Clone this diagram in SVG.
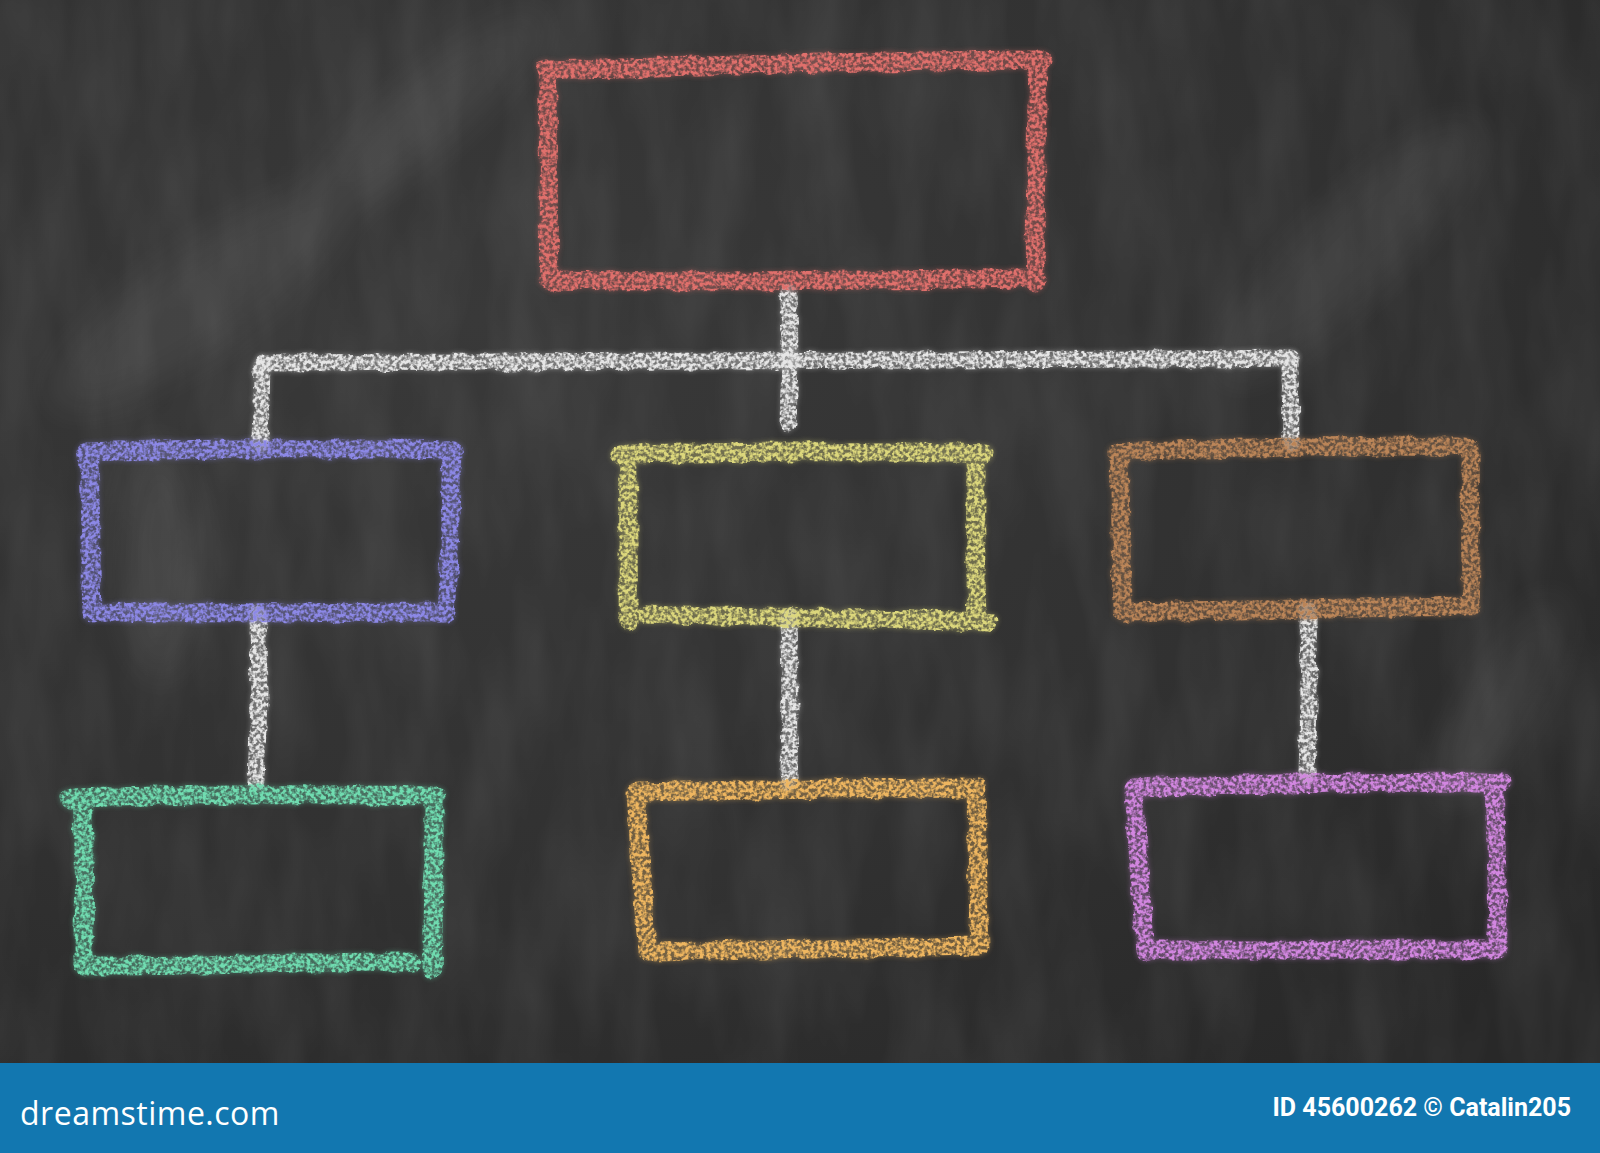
<svg xmlns="http://www.w3.org/2000/svg" width="1600" height="1153" viewBox="0 0 1600 1153">
  <defs>
    <radialGradient id="board" cx="0.3" cy="0.3" r="0.9">
      <stop offset="0" stop-color="#393939"/>
      <stop offset="0.6" stop-color="#313131"/>
      <stop offset="1" stop-color="#282828"/>
    </radialGradient>
    <filter id="boardtex" filterUnits="userSpaceOnUse" x="0" y="0" width="1600" height="1063">
      <feTurbulence type="fractalNoise" baseFrequency="0.02 0.006" numOctaves="3" seed="7" result="n"/>
      <feColorMatrix in="n" type="matrix" values="0 0 0 0 1  0 0 0 0 1  0 0 0 0 1  0.12 0 0 0 -0.04"/>
    </filter>
    <filter id="chalk" filterUnits="userSpaceOnUse" x="0" y="0" width="1600" height="1063">
      <feTurbulence type="fractalNoise" baseFrequency="0.06" numOctaves="2" seed="2" result="warp"/>
      <feDisplacementMap in="SourceGraphic" in2="warp" scale="7" xChannelSelector="R" yChannelSelector="G" result="rough"/>
      <feTurbulence type="fractalNoise" baseFrequency="0.28" numOctaves="2" seed="5" result="grainNoise"/>
      <feColorMatrix in="grainNoise" type="matrix" values="0 0 0 0 0  0 0 0 0 0  0 0 0 0 0  3.6 0 0 0 -1.25" result="mask"/>
      <feComposite in="rough" in2="mask" operator="in" result="grain"/>
      <feGaussianBlur in="rough" stdDeviation="2.5" result="halo"/>
      <feComponentTransfer in="halo" result="halo2">
        <feFuncA type="linear" slope="0.35"/>
      </feComponentTransfer>
      <feMerge>
        <feMergeNode in="halo2"/>
        <feMergeNode in="grain"/>
      </feMerge>
    </filter>
    <filter id="smudge" x="-20%" y="-20%" width="140%" height="140%">
      <feGaussianBlur stdDeviation="18"/>
    </filter>
  </defs>
  <style>
    .ch { fill: none; stroke-width: 19; stroke-linecap: round; stroke-linejoin: round; filter: url(#chalk); }
    .red { stroke: #e0706c; }
    .wht { stroke: #e6e6e6; stroke-width: 17; }
    .blu { stroke: #8c88e6; }
    .yel { stroke: #dcd77c; }
    .brn { stroke: #bb8558; }
    .grn { stroke: #6fdcb0; }
    .org { stroke: #eeb660; }
    .pur { stroke: #d286e0; }
    .bar { fill: #1277b0; }
    .t1 { font-family: "Open Sans", "Liberation Sans", sans-serif; fill: #ffffff; font-size: 32px; letter-spacing: 0.5px; }
    .t2 { font-family: Roboto, "Liberation Sans", sans-serif; fill: #ffffff; font-size: 25px; font-weight: bold; }
  </style>

  <!-- chalkboard -->
  <rect x="0" y="0" width="1600" height="1063" fill="url(#board)"/>
  <rect x="0" y="0" width="1600" height="1063" filter="url(#boardtex)"/>
  <g opacity="0.07" filter="url(#smudge)" fill="#ffffff">
    <ellipse cx="200" cy="300" rx="180" ry="50" transform="rotate(-35 200 300)"/>
    <ellipse cx="420" cy="120" rx="160" ry="35" transform="rotate(-40 420 120)"/>
    <ellipse cx="1350" cy="250" rx="180" ry="45" transform="rotate(-45 1350 250)"/>
    <ellipse cx="1500" cy="700" rx="120" ry="35" transform="rotate(-60 1500 700)"/>
    <ellipse cx="160" cy="560" rx="40" ry="120"/>
  </g>

  <!-- connectors -->
  <g id="connectors" class="connectors">
    <path class="ch wht" d="M789,292 L790,360 L788,424"/>
    <path class="ch wht" d="M262,363 C500,360 900,362 1290,358"/>
    <path class="ch wht" d="M262,364 L260,444"/>
    <path class="ch wht" d="M1290,360 L1291,442"/>
    <path class="ch wht" d="M258,614 L259,700 L256,784"/>
    <path class="ch wht" d="M789,618 L790,700 L789,782"/>
    <path class="ch wht" d="M1308,610 L1309,700 L1307,776"/>
  </g>

  <!-- nodes -->
  <g id="node-top">
    <path class="ch red" d="M546,70 C700,66 900,60 1042,60 M1038,62 C1036,140 1034,220 1036,282 M1036,278 C900,280 700,282 550,280 M549,280 C547,200 550,130 547,70"/>
  </g>
  <g id="node-left">
    <path class="ch blu" d="M86,452 C200,448 350,448 454,450 M452,452 C450,500 450,560 446,612 M446,612 C330,612 200,614 92,612 M92,614 C90,560 92,500 88,452"/>
  </g>
  <g id="node-center">
    <path class="ch yel" d="M620,454 C750,452 880,450 985,454 M976,456 C976,510 975,570 977,616 M988,622 C880,618 760,618 646,614 M628,456 C627,520 629,570 628,622"/>
  </g>
  <g id="node-right">
    <path class="ch brn" d="M1118,452 C1230,447 1350,446 1468,446 M1470,448 C1470,500 1472,560 1470,606 M1470,606 C1350,608 1230,610 1124,612 M1122,612 C1121,560 1122,500 1118,452"/>
  </g>
  <g id="node-left-child">
    <path class="ch grn" d="M70,798 C200,794 330,794 436,796 M434,798 C434,860 434,920 432,968 M412,962 C300,962 200,966 84,966 M84,966 C84,900 86,850 82,798"/>
  </g>
  <g id="node-center-child">
    <path class="ch org" d="M636,792 C750,790 880,788 978,788 M976,790 C977,850 978,900 980,946 M980,946 C880,948 760,950 648,952 M648,952 C642,900 640,850 636,792"/>
  </g>
  <g id="node-right-child">
    <path class="ch pur" d="M1134,788 C1250,784 1380,782 1502,782 M1494,784 C1496,840 1498,900 1498,948 M1498,950 C1380,950 1250,950 1146,950 M1146,950 C1140,900 1138,840 1134,788"/>
  </g>

  <!-- bottom banner -->
  <rect class="bar" x="0" y="1063" width="1600" height="90"/>
  <text class="t1" x="20" y="1125">dreamstime.com</text>
  <text class="t2" x="1571" y="1116" text-anchor="end">ID 45600262 © Catalin205</text>
</svg>
